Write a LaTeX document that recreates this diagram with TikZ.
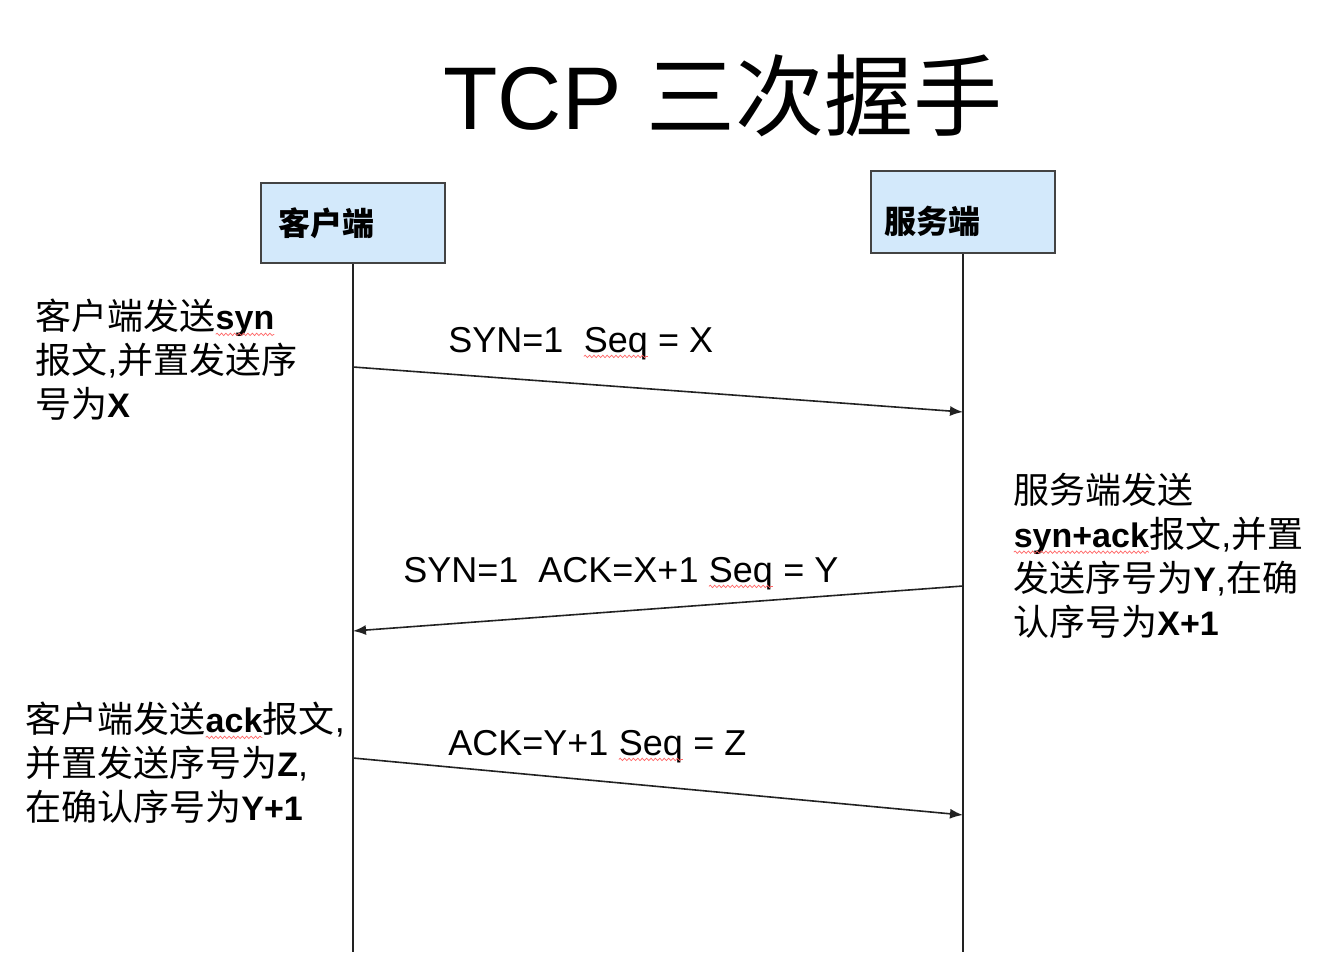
\documentclass[tikz,border=0pt]{standalone}
\usepackage{fontspec}
\usetikzlibrary{arrows.meta,decorations.pathmorphing}
\setmainfont{Liberation Sans}
\newfontfamily\cjk{Noto Sans CJK SC}
\newcommand\C[1]{{\cjk #1}}
\newcommand\B[1]{{\fontsize{17}{22}\selectfont\bfseries #1}}
\newcommand\wv[1]{\tikz[baseline=(w.base)]{\node[inner sep=0pt,outer sep=0pt,anchor=base] (w) {#1};
  \draw[red!60,line width=0.35pt,decorate,decoration={snake,amplitude=0.6pt,segment length=2.2pt}]
    ([yshift=-2.2pt]w.base west) -- ([yshift=-2.2pt]w.base east);}}
\definecolor{boxfill}{RGB}{211,233,251}
\definecolor{linec}{RGB}{34,34,34}
\begin{document}
\begin{tikzpicture}[x=0.5pt,y=-0.5pt,
  actor/.style={draw=linec!85,line width=0.8pt,fill=boxfill,minimum width=92pt,inner sep=0pt},
  actlbl/.style={inner sep=0pt,font=\fontsize{16}{20}\selectfont\cjk\bfseries},
  life/.style={draw=linec,line width=1pt},
  msg/.style={draw=linec,line width=0.8pt,-{Latex[length=6.5pt,width=5pt]}},
  lbl/.style={inner sep=0pt,font=\fontsize{18}{22}\selectfont},
  desc/.style={inner sep=0pt,align=left,font=\fontsize{18}{22}\selectfont},
  ttl/.style={inner sep=0pt,font=\fontsize{44.5}{50}\selectfont}]
\useasboundingbox (0,0) rectangle (1340,970);
\fill[white] (0,0) rectangle (1340,970);

\node[ttl,anchor=base west] (title) at (443,129) {TCP \C{三次握手}};

\node[actor,minimum height=40pt] (cli) at (353,223) {};
\node[actor,minimum height=41pt] (srv) at (963,212) {};
\node[actlbl,anchor=base west] (clit) at (278,235) {客户端};
\node[actlbl,anchor=base west] (srvt) at (884,233) {服务端};

\coordinate (cliend) at (353,952);
\coordinate (srvend) at (963,952);
\draw[life] (cli.south) -- (cliend);
\draw[life] (srv.south) -- (srvend);

\coordinate (m1s) at (353,367);
\coordinate (m1e) at (963,412);
\coordinate (m2s) at (963,586);
\coordinate (m2e) at (353,631);
\coordinate (m3s) at (353,758);
\coordinate (m3e) at (963,815);
\draw[msg] (m1s) -- (m1e);
\draw[msg] (m2s) -- (m2e);
\draw[msg] (m3s) -- (m3e);

\node[lbl,anchor=base west] (l1) at (448,352) {SYN=1\ \ \wv{Seq} = X};
\node[lbl,anchor=base west] (l2) at (403,582) {SYN=1\ \ ACK=X+1 \wv{Seq} = Y};
\node[lbl,anchor=base west] (l3) at (448,755) {ACK=Y+1 \wv{Seq} = Z};

\node[desc,anchor=north west] (d1) at (35,299)
  {\C{客户端发送}\B{\wv{syn}}\\ \C{报文},\C{并置发送序}\\ \C{号为}\B{X}};
\node[desc,anchor=north west] (d2) at (1013,473)
  {\C{服务端发送}\\ \B{\wv{syn+ack}}\C{报文},\C{并置}\\ \C{发送序号为}\B{Y},\C{在确}\\ \C{认序号为}\B{X+1}};
\node[desc,anchor=north west] (d3) at (25,702)
  {\C{客户端发送}\B{\wv{ack}}\C{报文},\\ \C{并置发送序号为}\B{Z},\\ \C{在确认序号为}\B{Y+1}};
\end{tikzpicture}
\end{document}
